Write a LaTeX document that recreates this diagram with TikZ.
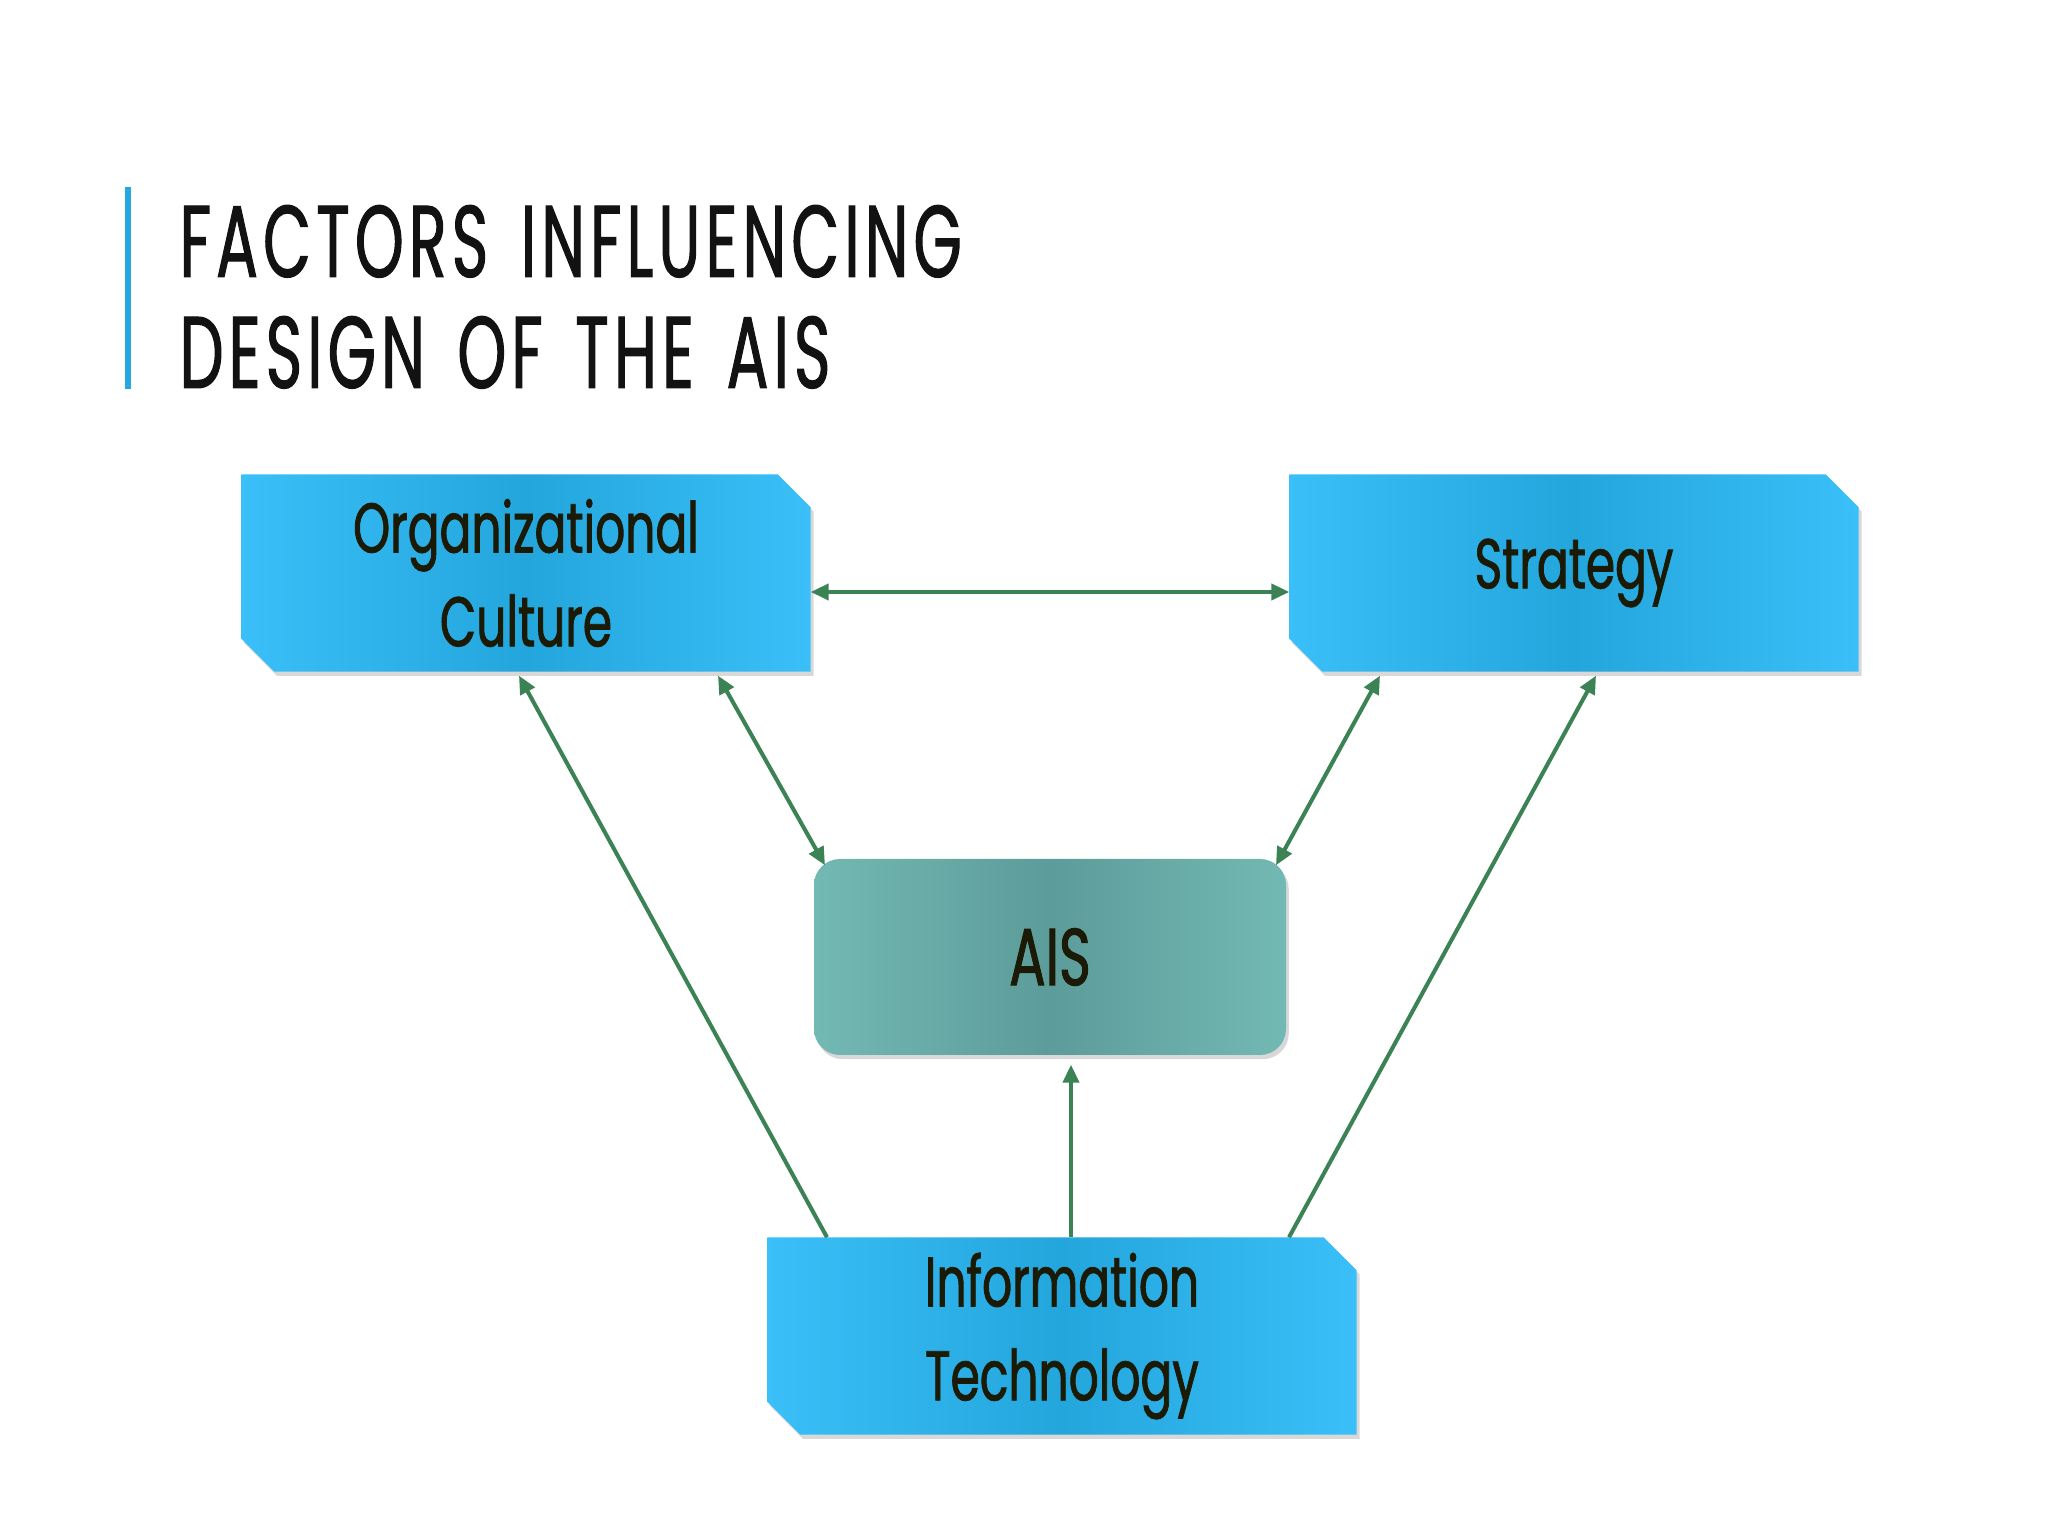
\documentclass[tikz,border=0pt]{standalone}
\usepackage{fontspec}
\setmainfont{Poppins}
\newfontfamily\titlefont[FakeStretch=0.61,LetterSpace=5,FakeBold=1,WordSpace=1.5]{Poppins}
\newfontfamily\boxfont[FakeStretch=0.67,FakeBold=1.2]{Poppins}
\usetikzlibrary{shadows,arrows.meta,backgrounds}
\definecolor{boxblue}{HTML}{3BBFF8}
\definecolor{boxbluedark}{HTML}{22A6DC}
\definecolor{aisteal}{HTML}{73B9B3}
\definecolor{aistealdark}{HTML}{5C9C9A}
\definecolor{boxtext}{HTML}{1B1A06}
\definecolor{linkgreen}{HTML}{3B8254}
\definecolor{titlebar}{HTML}{29A8E0}
\tikzset{
  factor/.style={rectangle, minimum width=5.68cm, minimum height=1.96cm,
    text=boxtext, align=center, inner sep=0pt,
    font={\boxfont\fontsize{20}{26.7}\selectfont}},
  factorfill/.style={left color=boxblue, right color=boxblue, middle color=boxbluedark,
    drop shadow={shadow xshift=0.8pt, shadow yshift=-1.2pt, opacity=0.3}},
  core/.style={rectangle, rounded corners=2.6mm, minimum width=4.72cm, minimum height=1.96cm,
    left color=aisteal, right color=aisteal, middle color=aistealdark,
    drop shadow={shadow xshift=0.8pt, shadow yshift=-1.2pt, opacity=0.3},
    text=boxtext, inner sep=0pt,
    font={\boxfont\fontsize{23}{26.7}\selectfont}},
  heading/.style={anchor=base west, inner sep=0pt, text=black!93,
    font={\titlefont\fontsize{29}{31.6}\selectfont}}
}
\begin{document}
\begin{tikzpicture}[>={Triangle[length=1.8mm,width=1.6mm]}]
  \useasboundingbox (0,0) rectangle (20.48,15.36);
  % title
  \draw[titlebar, line width=1.5pt] (1.28,13.49) -- (1.28,11.47);
  \node[heading] (title1) at (1.79,12.59) {FACTORS INFLUENCING};
  \node[heading] (title2) at (1.79,11.48) {DESIGN OF THE AIS};
  % boxes
  \node[factor] (culture) at (5.26,9.63) {Organizational\\Culture};
  \node[factor] (strategy) at (15.74,9.63) {Strategy};
  \node[core] (ais) at (10.50,5.79) {AIS};
  \node[factor, minimum width=5.88cm] (it) at (10.62,2.00) {Information\\Technology};
  % cut corners behind the texts
  \begin{scope}[on background layer]
    \fill[white] (0,0) rectangle (20.48,15.36);
    \foreach \n in {culture,strategy,it}
      \path[factorfill] (\n.north west) -- ([xshift=-3.3mm]\n.north east)
        -- ([yshift=-3.3mm]\n.north east) -- (\n.south east)
        -- ([xshift=3.3mm]\n.south west) -- ([yshift=3.3mm]\n.south west) -- cycle;
  \end{scope}
  \begin{scope}[draw=linkgreen, line width=1.15pt]
    \draw[<->] ([yshift=-1.9mm]culture.east) to ([yshift=-1.9mm]strategy.west);
    \draw[<->] ([xshift=1.92cm,yshift=-0.4mm]culture.south) to ([xshift=-2.25cm,yshift=-0.7mm]ais.north);
    \draw[<->] ([xshift=-1.94cm,yshift=-0.4mm]strategy.south) to ([xshift=2.26cm,yshift=-0.7mm]ais.north);
    \draw[->] ([xshift=-2.35cm]it.north) to ([xshift=-0.07cm,yshift=-0.4mm]culture.south);
    \draw[->] ([xshift=0.09cm]it.north) to ([xshift=0.09cm,yshift=-0.9mm]ais.south -| it.north);
    \draw[->] ([xshift=2.27cm]it.north) to ([xshift=0.22cm,yshift=-0.4mm]strategy.south);
  \end{scope}
\end{tikzpicture}
\end{document}
